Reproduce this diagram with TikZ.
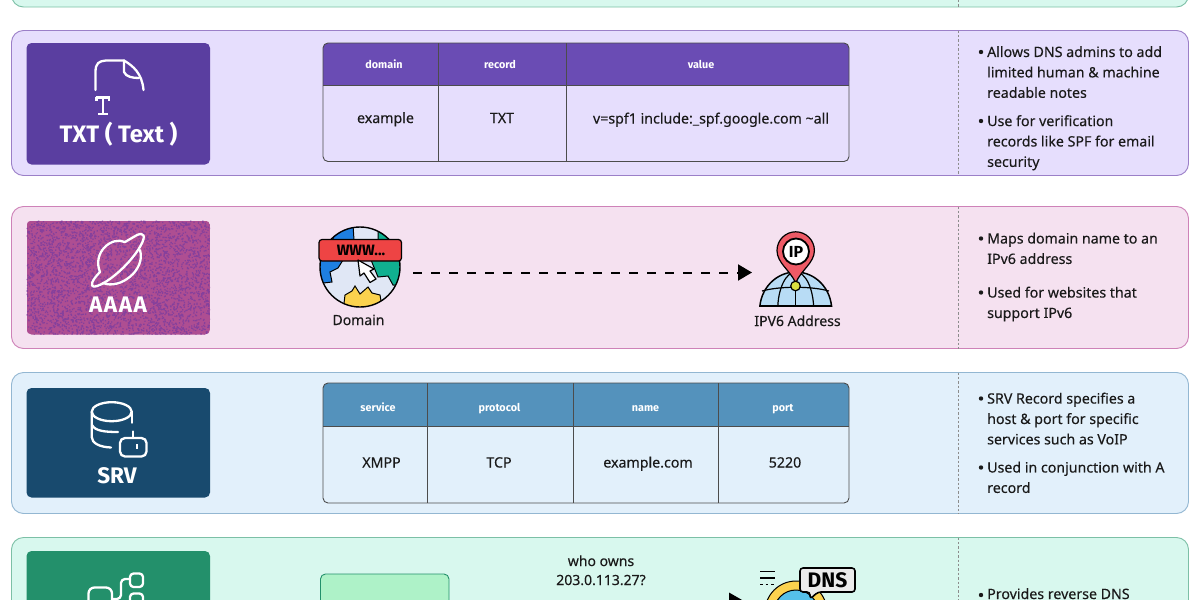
\documentclass[tikz,border=0pt]{standalone}
\usepackage{fontspec}
\setmainfont{Noto Sans}[FakeBold=0.18]
\newfontfamily\heavy{Fira Sans}[BoldFont={Fira Sans Bold}]
\newfontfamily\heavywide{Fira Sans}[BoldFont={Fira Sans Bold},LetterSpace=7]
\usetikzlibrary{arrows.meta,calc}
\definecolor{purpbg}{HTML}{E6DEFD}\definecolor{purpline}{HTML}{9B7FC8}\definecolor{purpdark}{HTML}{5A3EA0}\definecolor{purphead}{HTML}{6A4CB4}
\definecolor{pinkbg}{HTML}{F5E1F0}\definecolor{pinkline}{HTML}{CE82B8}\definecolor{pinkdark}{HTML}{AE4E92}\definecolor{pinknoise}{HTML}{85409C}
\definecolor{bluebg}{HTML}{E2F0FB}\definecolor{blueline}{HTML}{93B7D2}\definecolor{bluedark}{HTML}{184A6E}\definecolor{bluehead}{HTML}{5492BC}
\definecolor{greenbg}{HTML}{D8F8EE}\definecolor{greenline}{HTML}{7CC0A6}\definecolor{greendark}{HTML}{23906B}\definecolor{greenlight}{HTML}{AEF2C8}
\definecolor{ink}{HTML}{1A1A1A}
\definecolor{globefill}{HTML}{E0E7F5}\definecolor{gblue}{HTML}{1E7FE0}\definecolor{gteal}{HTML}{10B090}\definecolor{gyellow}{HTML}{FBD24E}\definecolor{gred}{HTML}{EE4444}
\definecolor{domeblue}{HTML}{B8DCF5}\definecolor{pinred}{HTML}{EE5A66}\definecolor{pindot}{HTML}{D8E040}\definecolor{dnsblue}{HTML}{55C0EA}
\tikzset{x=1pt,y=-1pt,
 band/.style={rounded corners=12,line width=.9pt,draw=#1},
 tile/.style={rounded corners=5},
 tiletext/.style={text=white,font=\heavy\bfseries\fontsize{#1}{22}\selectfont,anchor=base,inner sep=0},
 ico/.style={draw=white,line width=2.3pt,line cap=round,line join=round},
 cell/.style={font=\fontsize{14.2}{15}\selectfont,text=ink,inner sep=0,anchor=base},
 head/.style={font=\heavy\bfseries\fontsize{10.8}{12}\selectfont,text=white,inner sep=0,anchor=base},
 tabline/.style={draw=black!70,line width=.9pt},
 note/.style={font=\fontsize{14.2}{20.4}\selectfont,text=ink,inner sep=0,anchor=north west,align=left},
 lab/.style={font=\fontsize{14}{15}\selectfont,text=ink,inner sep=0,anchor=base},
 divider/.style={draw=black!45,line width=.7pt,dash pattern=on 2.4pt off 2pt},
 ol/.style={draw=black,line width=1.2pt,line join=round}}
\newcommand{\bandbox}[4]{%
 \path[band=#2,fill=#1] (11.5,#3) rectangle (1188.5,#4);
 \draw[divider] (958,#3) -- (958,#4);}
\begin{document}
\begin{tikzpicture}
\useasboundingbox (0,0) rectangle (1200,600);
\fill[white] (0,0) rectangle (1200,600);
% bands
\path[band=greenline,fill=greenbg] (11.5,-40) rectangle (1188.5,7);
\draw[divider] (958,0) -- (958,7);
\bandbox{purpbg}{purpline}{30.5}{175.5}
\bandbox{pinkbg}{pinkline}{206.5}{348.5}
\bandbox{bluebg}{blueline}{372.5}{513.5}
\path[band=greenline,fill=greenbg] (11.5,537.5) rectangle (1188.5,640);
\draw[divider] (958,537.5) -- (958,600);
% tiles
\fill[tile,purpdark] (26.5,43) rectangle (210,164.5);
\fill[tile,bluedark] (26.5,388) rectangle (210,497.5);
\fill[tile,greendark] (26.5,551) rectangle (210,640);
\begin{scope}
\clip[tile] (26.5,220.5) rectangle (210,334.5);
\fill[pinkdark] (26.5,220.5) rectangle (210,334.5);
\pgfmathsetseed{7}
\fill[pinknoise] foreach \i in {1,...,3800} {
  ({26.5+183.5*rnd},{220.5+114*rnd}) rectangle +(1.3,1.3)};
\end{scope}
% tile labels
\node[tiletext=23.8] (ttxt) at (118.5,142.5) {TXT ( Text )};
\node[tiletext=22.5,font=\heavywide\bfseries\fontsize{22.5}{23}\selectfont] (taaaa) at (118,312) {AAAA};
\node[tiletext=22.5] (tsrv) at (117,483) {SRV};
% TXT icon
\draw[ico] (95.5,90) -- (95.5,72) .. controls (95.5,63) and (99,61) .. (106,60.5) -- (124,60.5) .. controls (133,66) and (142,73) .. (143.5,90);
\draw[ico] (124,60.5) -- (124,72) .. controls (126,77) and (133,78) .. (139,78);
\draw[ico,line width=2.2pt,line cap=butt] (95.5,97.5) -- (110,97.5) (96.5,96.5) -- (96.5,101) (109,96.5) -- (109,101) (102.7,97.5) -- (102.7,114) (98,114) -- (107.5,114);
% AAAA icon
\draw[ico] (125,242) .. controls (112,236) and (92,252) .. (100,272);
\draw[ico] (103,283) .. controls (120,290) and (146,270) .. (140,250);
\draw[ico] (100,272) .. controls (92,280) and (89,287) .. (95,286.5) .. controls (108,284) and (132,262) .. (141,245) .. controls (146,236) and (144,232) .. (137,235) -- (125,242);
% SRV icon
\draw[ico] (111.7,411.7) ellipse[x radius=20,y radius=9.5];
\draw[ico] (91.7,412) -- (91.7,437) .. controls (92,443) and (99,447) .. (111,447.5);
\draw[ico] (92,425) .. controls (95,431) and (105,432) .. (118,432);
\draw[ico] (131.7,412) -- (131.7,422.7);
\draw[ico,rounded corners=5] (120,438) rectangle (146.5,456.5);
\draw[ico] (132.7,431.5) -- (132.7,438);
\fill[white] (136.2,443.5) rectangle (138,448.5);
% PTR icon
\draw[ico,rounded corners=6] (88.5,587.5) rectangle (112,625);
\draw[ico,rounded corners=3.5] (130,573.5) rectangle (143,587);
\draw[ico,rounded corners=3.5] (130,593.5) rectangle (143,610);
\draw[ico,rounded corners=4] (112,599) -- (121,599) -- (121,579) -- (130,579);
% TXT table
\fill[purphead,rounded corners=5] (323,43) -- (849,43) -- (849,85.5) -- (323,85.5) -- cycle;
\fill[purphead] (323,60) rectangle (849,85.5);
\draw[tabline,rounded corners=5] (323,43) rectangle (849,161.5);
\draw[tabline] (323,85.5) -- (849,85.5) (438.5,43) -- (438.5,161.5) (566,43) -- (566,161.5);
\node[head] (h1) at (384,68) {domain};
\node[head] (h2) at (500,68) {record};
\node[head] (h3) at (701,68) {value};
\node[cell] (c1) at (385.5,123) {example};
\node[cell] (c2) at (502,123) {TXT};
\node[cell] (c3) at (711,123.5) {v=spf1 include:\_spf.google.com \textasciitilde all};
% SRV table
\fill[bluehead,rounded corners=5] (323,383) -- (849,383) -- (849,426.5) -- (323,426.5) -- cycle;
\fill[bluehead] (323,400) rectangle (849,426.5);
\draw[tabline,rounded corners=5] (323,383) rectangle (849,503);
\draw[tabline] (323,426.5) -- (849,426.5) (427,383) -- (427,503) (573,383) -- (573,503) (718.5,383) -- (718.5,503);
\node[head] (s1) at (378,411) {service};
\node[head] (s2) at (499.5,411) {protocol};
\node[head] (s3) at (645.5,411) {name};
\node[head] (s4) at (783,411) {port};
\node[cell] (d1) at (381.5,467.5) {XMPP};
\node[cell] (d2) at (499,467.5) {TCP};
\node[cell] (d3) at (648,467.5) {example.com};
\node[cell] (d4) at (785,467.5) {5220};
% globe
\begin{scope}
\clip (360,267) circle (40);
\fill[globefill] (319,227) rectangle (401,307);
\fill[gblue,draw=black,line width=1pt] (333,225) -- (353,225) -- (354,240) -- (333,240) -- cycle;
\fill[gteal,draw=black,line width=1pt] (378,225) -- (390,235) -- (390,240) -- (378,240) -- cycle;
\fill[gblue,draw=black,line width=1pt] (315,260) -- (343,260) -- (338,268) -- (330,272) -- (332,282) -- (315,284) -- cycle;
\fill[gteal,draw=black,line width=1pt] (371,260) -- (405,260) -- (405,285) -- (393,285) -- (388,276) -- (378,277) -- cycle;
\fill[gyellow,draw=black,line width=1pt] (343,312) -- (345,295) -- (352,291) -- (355,286) -- (360,294) -- (368,287) -- (372,293) -- (380,295) -- (383,312) -- cycle;
\end{scope}
\draw[ol,line width=1.4pt] (360,267) circle (40);
\draw[ol,fill=gred,rounded corners=3] (319,239.5) rectangle (401.5,261);
\node[inner sep=0,font=\heavy\bfseries\fontsize{15}{16}\selectfont,text=black] (www) at (361,250) {WWW...};
\draw[ol,fill=white] (358,260) -- (360,276) -- (364,273) -- (370,282.5) -- (376,279) -- (370,271) -- (374,269) -- cycle;
\node[lab] (dom) at (358.5,325) {Domain};
% IP pin
\coordinate (pinend) at (752,272.5);
\begin{scope}
\clip (755,306) rectangle (836,265);
\fill[domeblue,draw=black,line width=1.5pt] (795.7,310) ellipse[x radius=36,y radius=38];
\end{scope}
\draw[ol,line width=1.6pt,line cap=round] (760,306) -- (831.5,306);
\begin{scope}
\clip (755,306) rectangle (836,265);
\draw[ol] (795.7,310) ellipse[x radius=18,y radius=38];
\draw[ol] (795.7,272) -- (795.7,306);
\draw[ol] (762,291) .. controls (780,286) and (811,286) .. (829,291);
\end{scope}
\draw[ol,fill=pinred] (795.7,283) .. controls (790,270) and (777,263) .. (777,250.5) arc (180:360:18.7) .. controls (814.4,263) and (801,270) .. (795.7,283) -- cycle;
\draw[ol,fill=white,line width=1.8pt] (796,251.5) circle (13);
\node[inner sep=0,font=\heavy\bfseries\fontsize{16}{17}\selectfont,text=black] (iptxt) at (796,251.5) {IP};
\draw[ol,fill=pindot] (795.5,286) circle (4.8);
\node[lab] (ipv6) at (797.5,326) {IPV6 Address};
% dashed arrow
\coordinate (dstart) at (413,272.5);
\draw[black,line width=2pt,dash pattern=on 8.5pt off 9.5pt,-{Triangle[length=14pt,width=16pt]}] (dstart) -- (pinend);
% PTR
\draw[draw=greendark,line width=.9pt,fill=greenlight,rounded corners=5] (320.5,574) rectangle (449,640);
\node[lab] (who) at (601,566) {who owns};
\node[lab] (addr) at (601,585) {203.0.113.27?};
\fill[black] (729,592.5) -- (743,600.5) -- (729,608.5) -- cycle;
% DNS icon
\begin{scope}
\clip (740,570) rectangle (860,600);
\fill[gyellow,draw=black,line width=1pt] (796,612) circle (31);
\fill[dnsblue,draw=black,line width=1pt] (796,612) circle (22);
\end{scope}
\draw[black,line width=1.6pt] (760,571.5) -- (775,571.5) (760,578) -- (775,578);
\draw[black,line width=1.6pt,dash pattern=on 2.5pt off 3pt] (760,584.5) -- (775,584.5);
\draw[ol,line width=1.6pt,fill=black!8,rounded corners=3] (800,568) -- (855,568) -- (855,592) -- (818,592) -- (810,599) -- (810,592) -- (800,592) -- cycle;
\node[inner sep=0,font=\heavy\bfseries\fontsize{21}{23}\selectfont,text=black] (dnstxt) at (827.5,580.5) {DNS};
% notes
\node[note] (n1) at (987,46) {Allows DNS admins to add\\limited human \& machine\\readable notes};
\node[note] (n2) at (987,115) {Use for verification\\records like SPF for email\\security};
\node[note] (n3) at (987,232.5) {Maps domain name to an\\IPv6 address};
\node[note] (n4) at (987,286.5) {Used for websites that\\support IPv6};
\node[note] (n5) at (987,392.5) {SRV Record specifies a\\host \& port for specific\\services such as VoIP};
\node[note] (n6) at (987,461.5) {Used in conjunction with A\\record};
\node[note] (n7) at (987,588) {Provides reverse DNS};
\foreach \y in {52,121,238.5,292.5,398.5,467.5,595} \fill[ink] (981,\y) circle (2.2);
\end{tikzpicture}
\end{document}
